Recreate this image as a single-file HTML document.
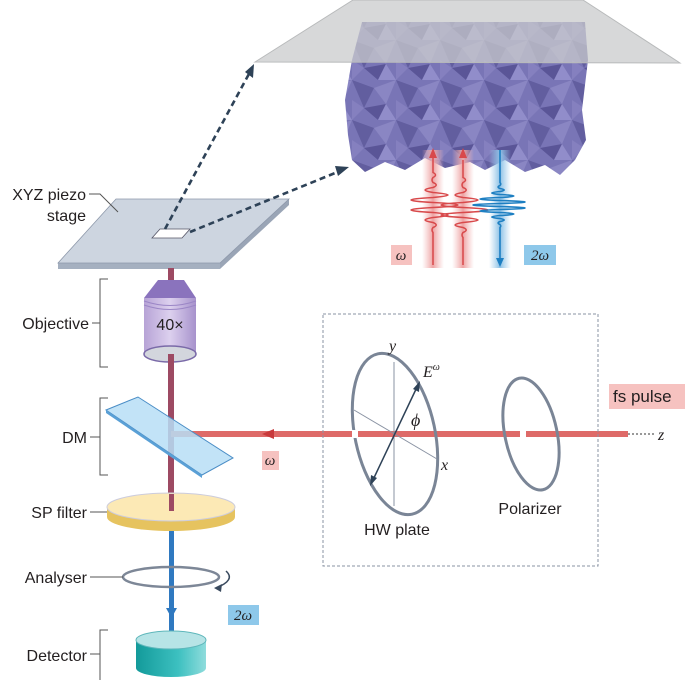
<!DOCTYPE html>
<html><head><meta charset="utf-8"><style>
body{margin:0;background:#fff}
svg{display:block}
text{font-family:"Liberation Sans",sans-serif;fill:#231f20}
.it{font-style:italic;font-family:"Liberation Serif",serif}
</style></head><body>
<svg width="685" height="680" viewBox="0 0 685 680" xmlns="http://www.w3.org/2000/svg">
<defs>
<pattern id="oct" width="44" height="40" patternUnits="userSpaceOnUse">
<rect width="44" height="40" fill="#7975b6"/>
<polygon points="0,0 22,8 12,28" fill="#625e9f"/>
<polygon points="22,8 44,0 34,24" fill="#8a86c3"/>
<polygon points="12,28 34,24 26,40" fill="#5a5597"/>
<polygon points="34,24 44,40 26,40" fill="#918dca"/>
<polygon points="0,20 12,28 0,40" fill="#8580bf"/>
</pattern>
<linearGradient id="rb" x1="0" x2="1"><stop offset="0" stop-color="#f3b9b9" stop-opacity="0"/><stop offset="0.5" stop-color="#eea3a3"/><stop offset="1" stop-color="#f3b9b9" stop-opacity="0"/></linearGradient>
<linearGradient id="bb" x1="0" x2="1"><stop offset="0" stop-color="#9ccbea" stop-opacity="0"/><stop offset="0.5" stop-color="#8cc1e6"/><stop offset="1" stop-color="#9ccbea" stop-opacity="0"/></linearGradient>
<linearGradient id="det" x1="0" x2="1"><stop offset="0" stop-color="#139a9a"/><stop offset="0.6" stop-color="#3cc0c0"/><stop offset="1" stop-color="#8fdcdc"/></linearGradient>
<linearGradient id="obj" x1="0" x2="1"><stop offset="0" stop-color="#b7a3d6"/><stop offset="0.5" stop-color="#dcd0ee"/><stop offset="1" stop-color="#a792cc"/></linearGradient>
</defs>

<!-- crystal -->
<path d="M352 60 L362 22 L585 22 L588 60 L582 110 L586 140 L575 160 L560 175 L545 165 L525 172 L505 160 L485 170 L470 162 L445 168 L425 158 L405 170 L385 162 L365 172 L352 160 L348 135 L345 100 Z" fill="url(#oct)"/>
<!-- gray plane -->
<polygon points="255,62 353,0 583,0 680,63" fill="#c9cbcc" fill-opacity="0.75" stroke="#b8babb"/>
<!-- beams top -->
<rect x="422" y="150" width="22" height="118" fill="url(#rb)"/>
<rect x="452" y="150" width="22" height="118" fill="url(#rb)"/>
<rect x="489" y="150" width="22" height="118" fill="url(#bb)"/>
<path d="M433,155 L433,172.5 Q438,175 433,177.5 Q431,180 433,182.5 Q439.4,185 433,187.5 Q417.2,190 433,192.5 Q463,195 433,197.5 Q389,200 433,202.5 Q483,205 433,207.5 Q389,210 433,212.5 Q463,215 433,217.5 Q417.2,220 433,222.5 Q439.4,225 433,227.5 Q431,230 433,232.5 L433,265" fill="none" stroke="#d8494b" stroke-width="1.5"/>
<path d="M433,155 L433,172.5 Q438,175 433,177.5 Q431,180 433,182.5 Q439.4,185 433,187.5 Q417.2,190 433,192.5 Q463,195 433,197.5 Q389,200 433,202.5 Q483,205 433,207.5 Q389,210 433,212.5 Q463,215 433,217.5 Q417.2,220 433,222.5 Q439.4,225 433,227.5 Q431,230 433,232.5 L433,260" transform="translate(30,5)" fill="none" stroke="#d8494b" stroke-width="1.5"/>
<path d="M500,150 L500,182.5 Q501.4,184 500,185.5 Q496.2,187 500,188.5 Q508.4,190 500,191.5 Q483.6,193 500,194.5 Q527.6,196 500,197.5 Q460,199 500,200.5 Q550,202 500,203.5 Q446,205 500,206.5 Q550,208 500,209.5 Q460,211 500,212.5 Q527.6,214 500,215.5 Q483.6,217 500,218.5 Q508.4,220 500,221.5 Q496.2,223 500,224.5 Q501.4,226 500,227.5 L500,260" fill="none" stroke="#1d7fc2" stroke-width="1.6"/>
<polygon points="429,158 433,148 437,158" fill="#d8494b"/>
<polygon points="459,158 463,148 467,158" fill="#d8494b"/>
<polygon points="496,258 500,267 504,258" fill="#1d7fc2"/>
<rect x="391" y="245" width="21" height="20" fill="#f6c2c0"/>
<text x="401" y="260" class="it" font-size="15" text-anchor="middle">ω</text>
<rect x="524" y="245" width="32" height="20" fill="#8ec8ea"/>
<text x="540" y="260" class="it" font-size="15" text-anchor="middle">2ω</text>

<!-- stage -->
<polygon points="58,263 220,263 220,269 58,269" fill="#a5b0c0"/>
<polygon points="220,263 289,199 289,205 220,269" fill="#9aa5b6"/>
<polygon points="58,263 116,199 289,199 220,263" fill="#cdd5e0" stroke="#8d98aa" stroke-width="0.8"/>
<polygon points="160,229 190,229 182,238 152,238" fill="#fff" stroke="#556" stroke-width="0.8"/>
<!-- dashed arrows -->
<g stroke="#2e4257" stroke-width="2.6" stroke-dasharray="6,4" fill="none">
<line x1="165" y1="229" x2="250" y2="72"/>
<line x1="190" y1="232" x2="340" y2="171"/>
</g>
<polygon points="254,64 253,78 245,72" fill="#2e4257"/>
<polygon points="349,167 338,176 335,166" fill="#2e4257"/>

<!-- vertical beam -->
<rect x="168" y="268" width="6" height="245" fill="#9d4a63"/>
<rect x="169" y="513" width="5" height="127" fill="#2f79c0"/>
<polygon points="166,608 171.5,618 177,608" fill="#2f79c0"/>
<!-- objective -->
<polygon points="158,280 184,280 196,298 144,298" fill="#8a73bd"/>
<rect x="144" y="298" width="52" height="56" fill="url(#obj)"/>
<path d="M144 301 Q170 310 196 301 M144 305 Q170 314 196 305" stroke="#9b86c6" fill="none"/>
<ellipse cx="170" cy="354" rx="26" ry="8" fill="#d3d6dd" stroke="#7a6aa8" stroke-width="1.5"/>
<rect x="168" y="354" width="6" height="10" fill="#9d4a63"/>
<text x="170" y="330" font-size="16" text-anchor="middle">40×</text>

<!-- horizontal beam -->
<rect x="171" y="431" width="457" height="6" fill="#de6a68"/>
<line x1="628" y1="434" x2="655" y2="434" stroke="#333" stroke-dasharray="2,2"/>
<text x="658" y="440" class="it" font-size="16">z</text>
<polygon points="262,434 274,429 274,439" fill="#c8393b"/>

<!-- DM -->
<polygon points="106,410 138,397 233,458 202,475" fill="#b7def6" fill-opacity="0.85" stroke="#4a8dc6"/>
<polygon points="106,410 202,475 202,478 106,413" fill="#5aa0d6"/>
<rect x="262" y="451" width="17" height="19" fill="#f6c2c0"/>
<text x="270" y="465" class="it" font-size="15" text-anchor="middle">ω</text>

<!-- SP filter -->
<path d="M107 507 L107 517 A64 14 0 0 0 235 517 L235 507 Z" fill="#e6c35f"/>
<ellipse cx="171" cy="507" rx="64" ry="14" fill="#fce9b5" stroke="#ccd" stroke-width="1"/>
<rect x="169" y="494" width="5" height="17" fill="#9d4a63"/>

<!-- analyser -->
<ellipse cx="171" cy="577" rx="48" ry="10" fill="none" stroke="#7d8797" stroke-width="2.5"/>
<path d="M226 571 Q236 580 216 588" fill="none" stroke="#3a4a5e" stroke-width="1.5"/>
<polygon points="214,588 222,584 221,592" fill="#3a4a5e"/>
<rect x="228" y="605" width="31" height="20" fill="#8ec8ea"/>
<text x="243" y="620" class="it" font-size="15" text-anchor="middle">2ω</text>

<!-- detector -->
<path d="M136 640 L136 668 A35 9 0 0 0 206 668 L206 640 Z" fill="url(#det)"/>
<ellipse cx="171" cy="640" rx="35" ry="9" fill="#b7e4e6" stroke="#5fb7bb"/>

<!-- left labels -->
<g font-size="16">
<text x="86" y="200" text-anchor="end">XYZ piezo</text>
<text x="86" y="221" text-anchor="end">stage</text>
<text x="89" y="329" text-anchor="end">Objective</text>
<text x="87" y="443" text-anchor="end">DM</text>
<text x="87" y="518" text-anchor="end">SP filter</text>
<text x="87" y="583" text-anchor="end">Analyser</text>
<text x="87" y="661" text-anchor="end">Detector</text>
</g>
<g stroke="#555" fill="none" stroke-width="1">
<path d="M89 194 L100 194 L118 212"/>
<path d="M108 279 L100 279 L100 367 L108 367 M92 323 L100 323"/>
<path d="M108 398 L100 398 L100 475 L108 475 M90 437 L100 437"/>
<path d="M90 512 L107 512"/>
<path d="M90 577 L123 577"/>
<path d="M108 630 L100 630 L100 680 M90 654 L100 654"/>
</g>

<!-- dashed box -->
<rect x="323" y="314" width="275" height="252" fill="none" stroke="#8a93a3" stroke-dasharray="3,2"/>
<!-- HW plate -->
<g transform="rotate(-12 395 434)">
<ellipse cx="395" cy="434" rx="40" ry="82" fill="none" stroke="#7a8596" stroke-width="3"/>
</g>
<line x1="394" y1="362" x2="394" y2="506" stroke="#8a93a3"/>
<line x1="354" y1="410" x2="437" y2="459" stroke="#8a93a3"/>
<rect x="352" y="430" width="6" height="8" fill="#fff"/>
<line x1="418" y1="385" x2="372" y2="482" stroke="#2e4257" stroke-width="1.5"/>
<polygon points="420,381 419,392 413,389" fill="#2e4257"/>
<polygon points="370,486 371,475 377,478" fill="#2e4257"/>
<text x="389" y="351" class="it" font-size="16">y</text>
<text x="423" y="377" class="it" font-size="16">E<tspan font-size="10" dy="-7">ω</tspan></text>
<text x="411" y="426" class="it" font-size="18">ϕ</text>
<text x="441" y="470" class="it" font-size="16">x</text>
<text x="397" y="535" font-size="16" text-anchor="middle">HW plate</text>
<!-- polarizer -->
<g transform="rotate(-12 531 434)">
<ellipse cx="531" cy="434" rx="26" ry="57" fill="none" stroke="#7a8596" stroke-width="3"/>
</g>
<rect x="520" y="430" width="6" height="8" fill="#fff"/>
<text x="530" y="514" font-size="16" text-anchor="middle">Polarizer</text>
<!-- fs pulse -->
<rect x="609" y="384" width="76" height="25" fill="#f6c2c0"/>
<text x="613" y="402" font-size="17">fs pulse</text>
</svg>
</body></html>
